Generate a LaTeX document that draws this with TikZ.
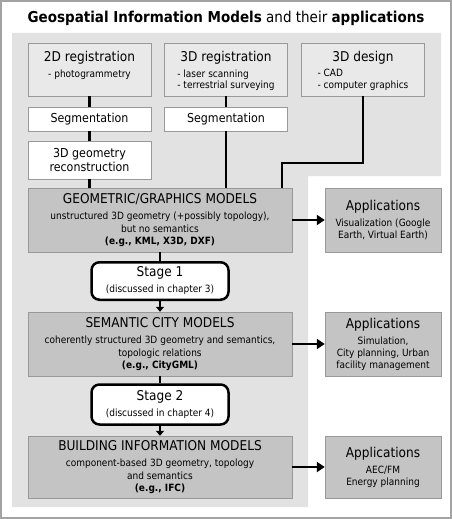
\documentclass[tikz,border=0pt]{standalone}
\usepackage{fontspec}
\setmainfont{DejaVu Sans}[FakeStretch=0.9]
\usetikzlibrary{arrows.meta, positioning}
\definecolor{framegray}{HTML}{A3A3A3}
\definecolor{areagray}{HTML}{E2E2E2}
\definecolor{srcgray}{HTML}{E9E9E9}
\definecolor{modelgray}{HTML}{C4C4C4}
\definecolor{edgegray}{HTML}{999999}
\newcommand\boxhead[1]{{\fontsize{13.5}{16}\selectfont #1}\\[4pt]}

\begin{document}
\begin{tikzpicture}[x=1pt, y=-1pt,
  srcbox/.style={draw=edgegray, fill=srcgray, minimum width=123pt, minimum height=53pt, inner sep=0pt},
  stepbox/.style={draw=edgegray, fill=white, minimum width=123pt, align=center, inner sep=0pt,
    font=\fontsize{12.3}{14}\selectfont},
  modelbox/.style={draw=edgegray, fill=modelgray, minimum width=264pt, minimum height=64pt, align=center,
    inner sep=0pt, font=\fontsize{10}{12.5}\selectfont},
  appbox/.style={draw=edgegray, fill=modelgray, minimum width=116pt, minimum height=64pt, align=center,
    inner sep=0pt, font=\fontsize{10}{12}\selectfont},
  stagebox/.style={draw, line width=2.5pt, rounded corners=8pt, fill=white, minimum width=137pt,
    minimum height=37.5pt, align=center, inner sep=0pt, font=\fontsize{10}{12}\selectfont},
  head/.style={font=\fontsize{13.5}{16}\selectfont, inner sep=0pt},
  items/.style={font=\fontsize{10}{11.5}\selectfont, align=left, inner sep=0pt},
  link/.style={line width=2.5pt},
  flow/.style={link, -{Triangle[length=8pt, width=10pt]}},
  stageflow/.style={link, -{Triangle[length=5pt, width=8pt]}},
]
\useasboundingbox (0,0) rectangle (452,519);

% frame and grey area
\fill[white] (0,0) rectangle (452,519);
\draw[framegray, line width=2pt] (1,1) rectangle (451,518);
\fill[areagray] (12,33) -- (441,33) -- (441,176) -- (308,176) -- (308,507) -- (12,507) -- cycle;

% title
\node[font=\fontsize{15}{18}\selectfont] (title) at (226,18)
  {\textbf{Geospatial Information Models} and their \textbf{applications}};

% data sources
\node[srcbox] (reg2d) at (89.5,69.5) {};
\node[srcbox] (reg3d) at (226,69.5) {};
\node[srcbox] (design) at (363,69.5) {};
\node[head, below=8pt of reg2d.north] (reg2d-head) {2D registration};
\node[head, below=8pt of reg3d.north] (reg3d-head) {3D registration};
\node[head, below=8pt of design.north] (design-head) {3D design};
\node[items, below=5pt of reg2d-head] (reg2d-items) {- photogrammetry};
\node[items, below=5pt of reg3d-head] (reg3d-items) {- laser scanning\\- terrestrial surveying};
\node[items, below=5pt of design-head] (design-items) {- CAD\\- computer graphics};

% processing steps
\node[stepbox, minimum height=24pt] (seg2d) at (89.5,119) {Segmentation};
\node[stepbox, minimum height=24pt] (seg3d) at (226,119) {Segmentation};
\node[stepbox, minimum height=38pt] (recon) at (89.5,160) {3D geometry\\reconstruction};

% models
\node[modelbox] (geom) at (160,220)
  {\boxhead{GEOMETRIC/GRAPHICS MODELS}
   unstructured 3D geometry (+possibly topology),\\but no semantics\\
   \textbf{(e.g., KML, X3D, DXF)}};
\node[stagebox] (stage1) at (160,281)
  {\boxhead{Stage 1}(discussed in chapter 3)};
\node[modelbox] (sem) at (160,344)
  {\boxhead{SEMANTIC CITY MODELS}
   coherently structured 3D geometry and semantics,\\topologic relations\\
   \textbf{(e.g., CityGML)}};
\node[stagebox, minimum height=40pt] (stage2) at (160,404.5)
  {\boxhead{Stage 2}(discussed in chapter 4)};
\node[modelbox, minimum height=62pt] (bim) at (160,467)
  {\boxhead{BUILDING INFORMATION MODELS}
   component-based 3D geometry, topology\\and semantics\\
   \textbf{(e.g., IFC)}};

% applications
\node[appbox] (app1) at (383,220)
  {\boxhead{Applications}Visualization (Google\\Earth, Virtual Earth)};
\node[appbox] (app2) at (383,344)
  {\boxhead{Applications}Simulation,\\City planning, Urban\\facility management};
\node[appbox, minimum height=62pt] (app3) at (383,467)
  {\boxhead{Applications}AEC/FM\\Energy planning};

% connectors
\coordinate (bend) at (282,163);
\draw[link] (reg2d) -- (seg2d);
\draw[link] (seg2d) -- (recon);
\draw[link] (recon.south) -- (recon.south |- geom.north);
\draw[link] (reg3d) -- (seg3d);
\draw[link] (seg3d.south) -- (seg3d.south |- geom.north);
\draw[link] (design.south) |- (bend) -- (bend |- geom.north);
\draw[link] (geom) -- (stage1);
\draw[stageflow] (stage1) -- (sem);
\draw[link] (sem) -- (stage2);
\draw[stageflow] (stage2) -- (bim);
\draw[flow] (geom) -- (app1);
\draw[flow] (sem) -- (app2);
\draw[flow] (bim) -- (app3);

\end{tikzpicture}
\end{document}
